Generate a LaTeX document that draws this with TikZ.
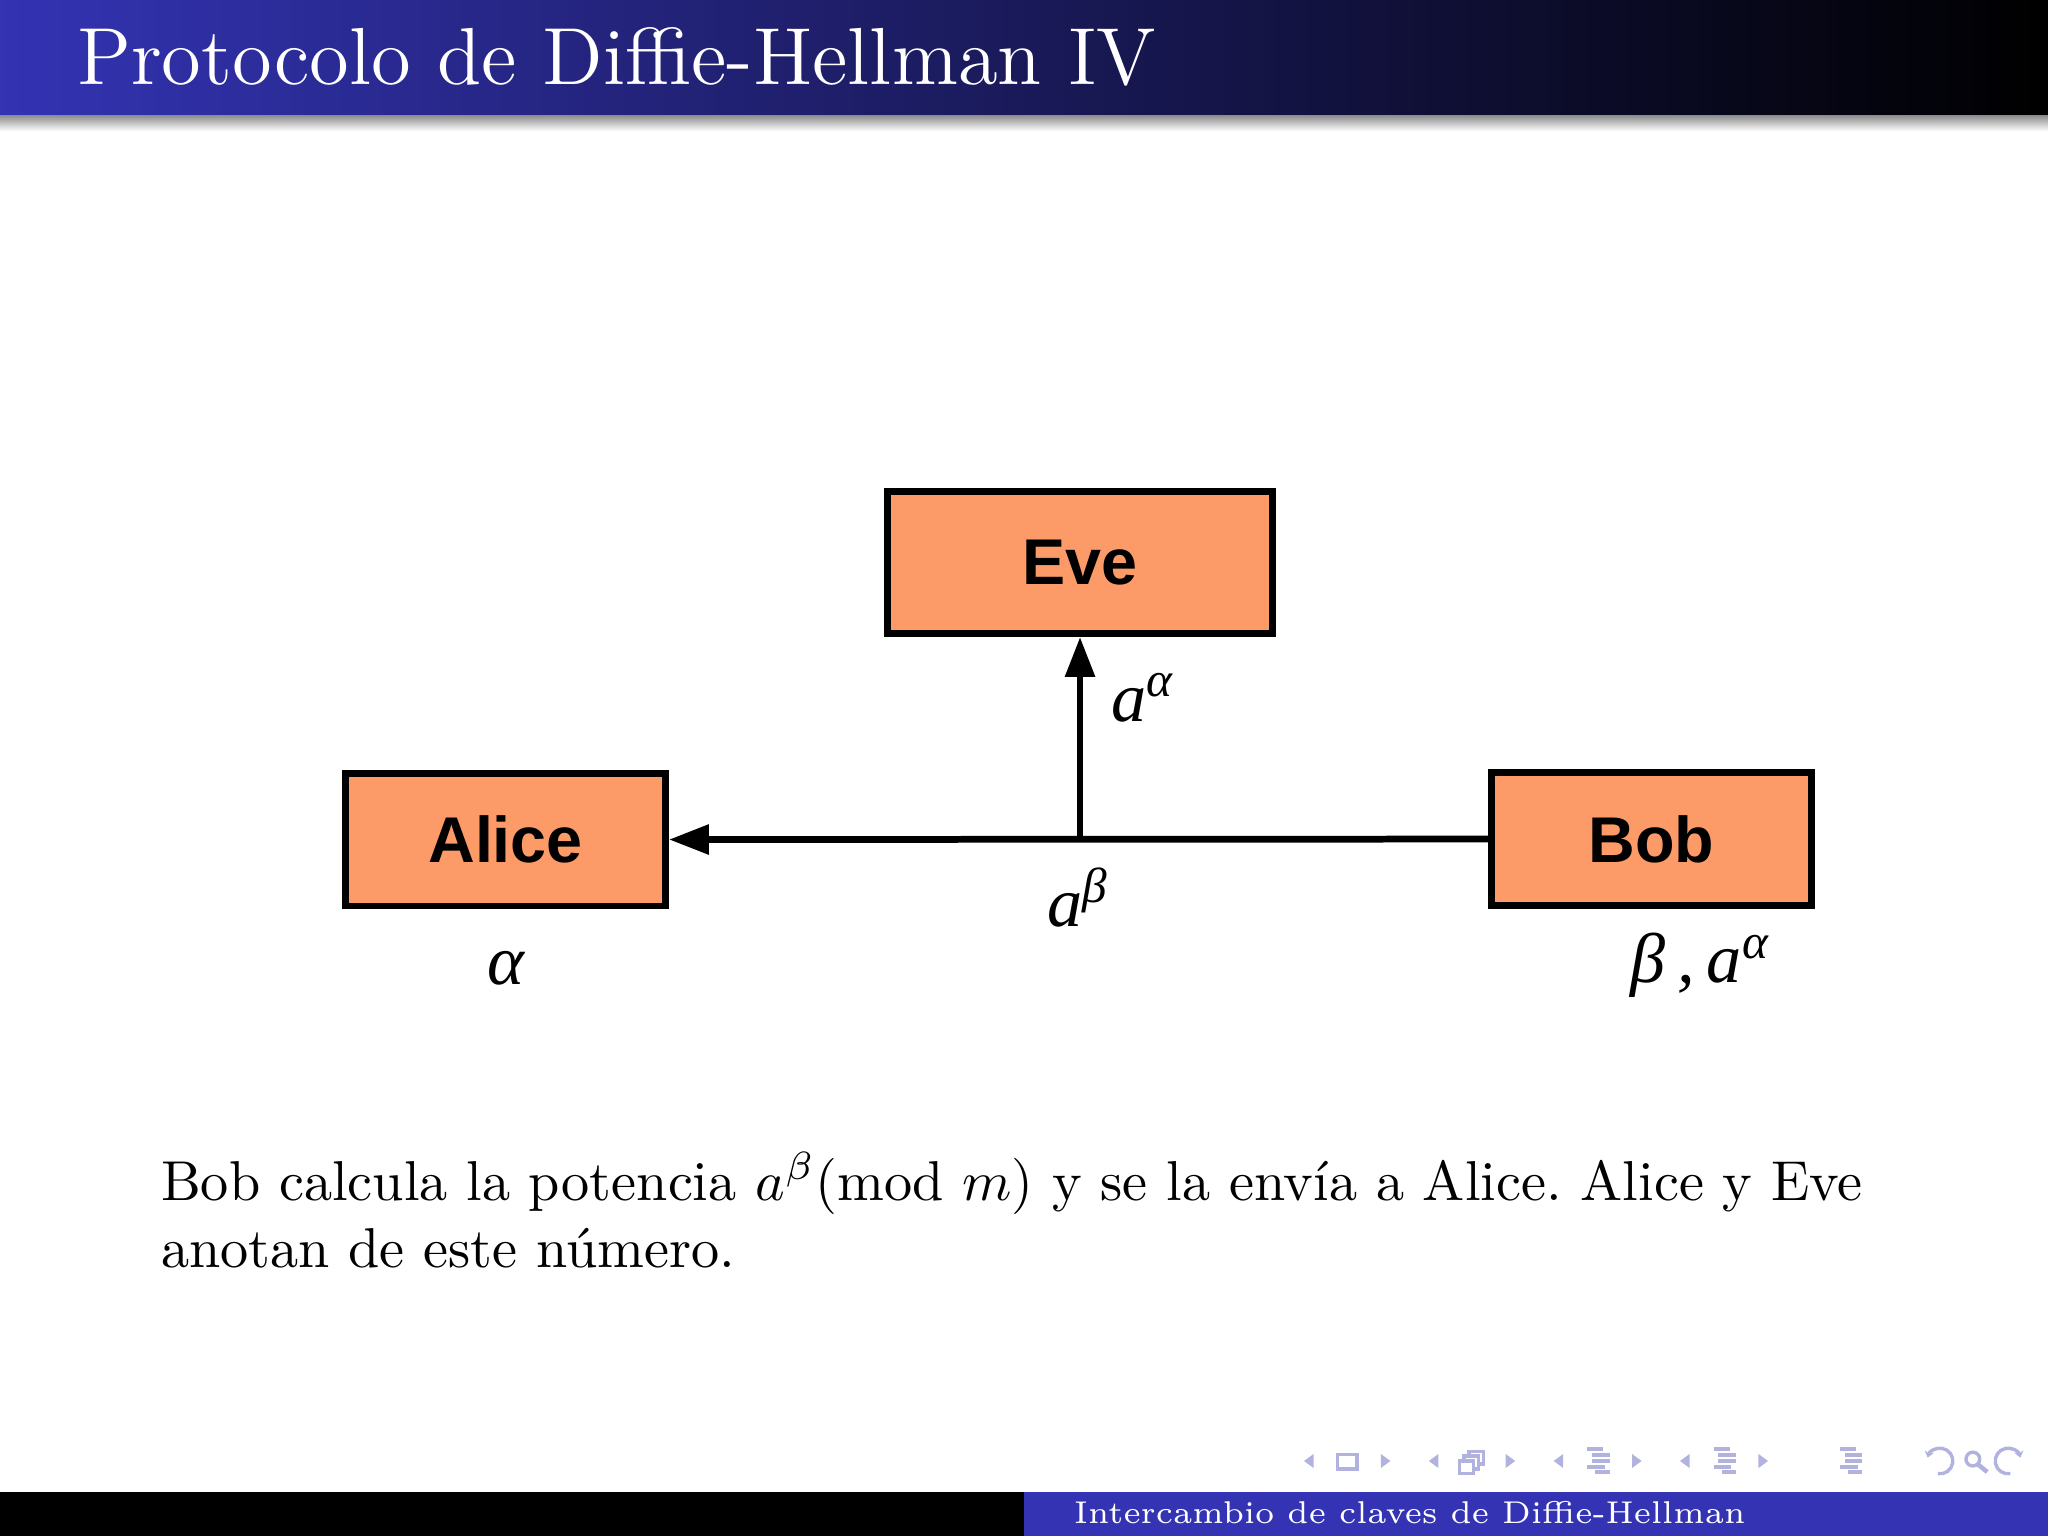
\documentclass[tikz,border=0pt]{standalone}
\usepackage{fontspec}
\newfontfamily\boxfont{Liberation Sans}
\newfontfamily\figfont{Liberation Serif}
\usetikzlibrary{arrows.meta, positioning, calc}
\definecolor{structure}{RGB}{51,51,179}
\definecolor{boxfill}{RGB}{252,155,104}
\definecolor{navcol}{RGB}{178,178,222}
\tikzset{
  party/.style={rectangle, draw=black, line width=1.2pt, fill=boxfill,
                minimum width=2.0cm, minimum height=0.83cm,
                font=\boxfont\bfseries\fontsize{11.5}{13}\selectfont},
  arrow/.style={-{Triangle[length=0.25cm, width=0.18cm]}, line width=1.2pt},
  expo/.style={font=\figfont\itshape\fontsize{12.5}{14}\selectfont, inner sep=1pt},
  navtri/.style={fill=navcol, draw=none},
  navline/.style={draw=navcol, line width=0.6pt},
}

\begin{document}
\begin{tikzpicture}
        \useasboundingbox (0,0) rectangle (12.8,9.6);
        \shade[left color=structure, right color=black] (0,8.88) rectangle (12.8,9.6);
        \shade[top color=black!45, bottom color=white] (0,8.78) rectangle (12.8,8.88);
        \node[anchor=base west, inner sep=0, text=white,
              font=\fontsize{14.4}{17}\selectfont] (title) at (0.475,9.07) {Protocolo de Diffie-Hellman IV};
        \node[party, minimum width=2.41cm, minimum height=0.89cm] (eve) at (6.75,6.085) {Eve};
        \node[party] (alice) at (3.16,4.353) {Alice};
        \node[party] (bob) at (10.32,4.356) {Bob};
        \coordinate (split) at (eve.south |- alice.east);
        \draw[arrow] (bob.west) -- (alice.east) node[expo, midway, below=0.12cm] (powbob) {a\textsuperscript{β}};
        \draw[arrow] (split) -- (eve.south) node[expo, pos=0.7, right=0.14cm] (poweve) {a\textsuperscript{α}};
        \node[expo, below=0.22cm of alice] (alicekey) {α};
        \node[expo, below=0.11cm of bob, xshift=0.31cm] (bobkeys) {β\,,\,a\textsuperscript{α}};
        \node[anchor=base west, inner sep=0, text width=10.8cm, align=left,
              font=\fontsize{10}{12}\selectfont\frenchspacing] (body) at (1.0,2.1)
              {Bob calcula la potencia $a^{\beta}(\mathrm{mod}\ m)$ y se la envía a Alice. Alice y Eve anotan de este número.};
        \fill[black] (0,0) rectangle (6.4,0.275);
        \fill[structure] (6.4,0) rectangle (12.8,0.275);
        \node[anchor=base west, inner sep=0, text=white,
              font=\fontsize{5.6}{7}\selectfont] (foot) at (6.706,0.08) {Intercambio de claves de Diffie-Hellman};
        \foreach \x in {8.18, 8.96, 9.74, 10.53}
          \fill[navtri] (\x+0.03,0.425) -- (\x-0.03,0.469) -- (\x+0.03,0.513) -- cycle;
        \foreach \x in {8.66, 9.44, 10.23, 11.02}
          \fill[navtri] (\x-0.03,0.425) -- (\x+0.03,0.469) -- (\x-0.03,0.513) -- cycle;
        \draw[navline] (8.36,0.42) rectangle (8.48,0.51);
        \draw[navline, fill=white] (9.18,0.45) rectangle (9.27,0.53);
        \draw[navline, fill=white] (9.15,0.42) rectangle (9.24,0.50);
        \draw[navline, fill=white] (9.12,0.39) rectangle (9.21,0.47);
        \foreach \x in {9.99, 10.78, 11.57}
          \foreach \y/\a/\b in {0.544/-0.07/0.03, 0.506/-0.04/0.07, 0.469/-0.04/0.07, 0.431/-0.07/0.04, 0.400/-0.02/0.07}
            \draw[navline] (\x+\a,\y) -- (\x+\b,\y);
        \draw[navline, -{Stealth[length=0.04cm, width=0.06cm]}] (12.125,0.469) ++(-100:0.08) arc[start angle=-100, end angle=165, radius=0.08];
        \draw[navline] (12.33,0.481) circle[radius=0.043];
        \draw[navline, line width=0.8pt] (12.36,0.45) -- (12.42,0.40);
        \draw[navline, -{Stealth[length=0.04cm, width=0.06cm]}] (12.55,0.469) ++(280:0.08) arc[start angle=280, end angle=15, radius=0.08];
      \end{tikzpicture}
\end{document}
